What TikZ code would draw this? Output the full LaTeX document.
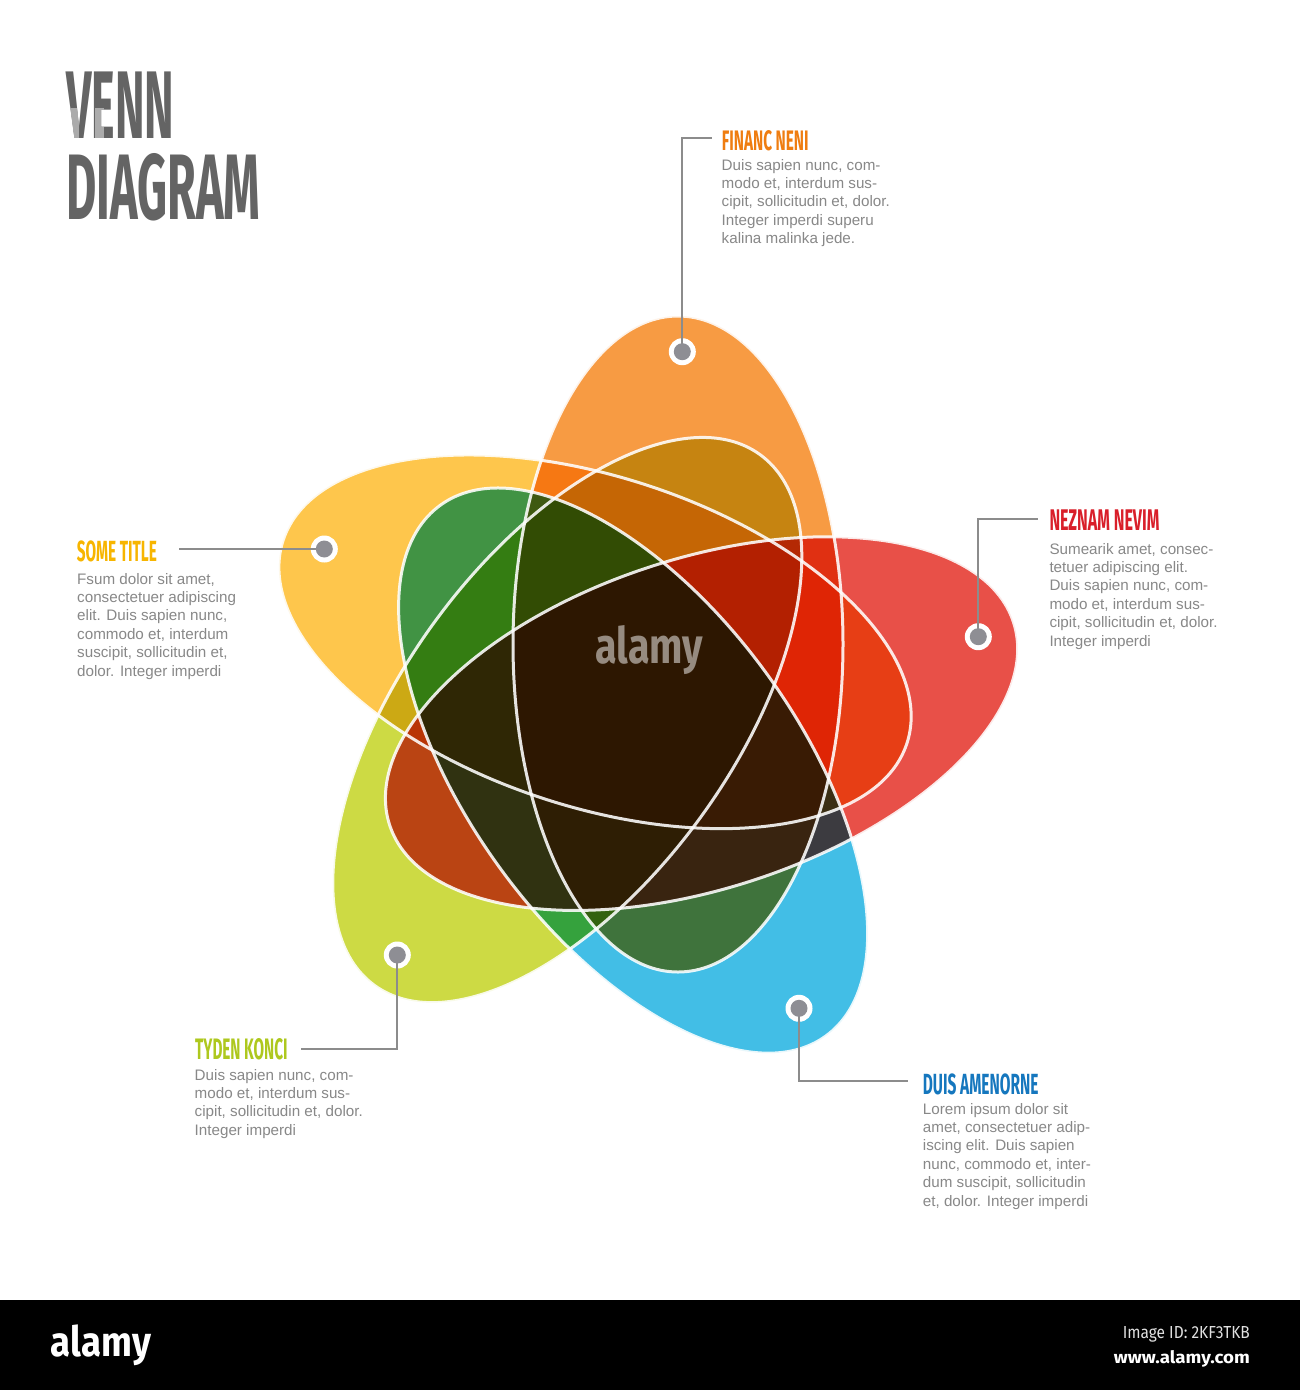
\documentclass[tikz,border=0pt]{standalone}
\usepackage{fontspec}
\usepackage{graphicx}
\setmainfont{Liberation Sans}
\newfontfamily\ttlfont{Fira Sans}
\definecolor{cOr}{HTML}{F79B43}
\definecolor{cYe}{HTML}{FEC64C}
\definecolor{cLi}{HTML}{CDDA44}
\definecolor{cBl}{HTML}{42BEE6}
\definecolor{cRe}{HTML}{E85048}
\definecolor{tOr}{HTML}{EF7D10}
\definecolor{tRe}{HTML}{D91F2A}
\definecolor{tYe}{HTML}{F7B500}
\definecolor{tLi}{HTML}{AEC81E}
\definecolor{tBl}{HTML}{1577BE}
\definecolor{bodyc}{HTML}{888888}
\definecolor{headc}{HTML}{646464}
\definecolor{headl}{HTML}{ABABAB}
\definecolor{connc}{HTML}{8C8C8C}
\definecolor{dotc}{HTML}{8E8E94}
\newcommand\ttl[3]{\resizebox{#1}{#2}{\ttlfont\bfseries #3}}
\newcommand\bodyblock[4]{%
  \foreach \bline [count=\i] in {#4}{\node[bodytxt] (#1\i) at (#2,{#3+18.4*(\i-1)}) {\bline};}}
\begin{document}
\begin{tikzpicture}[x=1pt,y=-1pt,
  bodytxt/.style={anchor=base west, inner sep=0pt, text=bodyc, font=\fontsize{15.2pt}{18pt}\selectfont},
  ttlnode/.style={anchor=base west, inner sep=0pt},
  ring/.style={circle, fill=white, minimum size=27pt, inner sep=0pt},
  hub/.style={circle, fill=dotc, minimum size=17pt, inner sep=0pt},
  conn/.style={draw=connc, line width=2pt},
  rim/.style={draw=white, draw opacity=0.88, line width=3pt}]
\useasboundingbox (0,0) rectangle (1300,1390);
\fill[white] (0,0) rectangle (1300,1390);
\coordinate (C) at (635,700);
% overlapping ellipses
\begin{scope}[blend group=multiply]
\foreach \ang/\col in {0/cOr,72/cYe,144/cLi,216/cBl,288/cRe}
  \fill[\col, rotate around={\ang:(C)}] (678,644) ellipse [x radius=165pt, y radius=328pt];
\end{scope}
\foreach \ang in {0,72,144,216,288}
  \draw[rim, rotate around={\ang:(C)}] (678,644) ellipse [x radius=165pt, y radius=328pt];
% watermark in centre
\node[anchor=base west, inner sep=0pt, text=white, text opacity=0.5] (wm) at (595,663) {\resizebox{108pt}{38pt}{\ttlfont\bfseries alamy}};
% dots
\node[ring] (dO) at (682.3,351.7) {};
\node[ring] (dR) at (978.3,636.7) {};
\node[ring] (dY) at (324.3,549) {};
\node[ring] (dL) at (397.3,955) {};
\node[ring] (dB) at (799,1008.3) {};
\coordinate (eO) at (711.7,138.3);
\coordinate (eR) at (1038,519.3);
\coordinate (eY) at (179.3,549);
\coordinate (eL) at (300.7,1049);
\coordinate (eB) at (908.3,1080.7);
\draw[conn] (dO.center) |- (eO);
\draw[conn] (dR.center) |- (eR);
\draw[conn] (dY.center) -- (eY);
\draw[conn] (dL.center) |- (eL);
\draw[conn] (dB.center) |- (eB);
\node[hub] (hO) at (dO) {};
\node[hub] (hR) at (dR) {};
\node[hub] (hY) at (dY) {};
\node[hub] (hL) at (dL) {};
\node[hub] (hB) at (dB) {};
% heading
\node[ttlnode, text=headc] (tV) at (66,138.3) {\ttl{108pt}{66.6pt}{VENN}};
\node[ttlnode, text=headc] (tD) at (66,219.3) {\ttl{194pt}{66pt}{DIAGRAM}};
\fill[headl, blend mode=lighten] (64,108) rectangle (79,139);
\fill[headl, blend mode=lighten] (95,108) rectangle (104,139);
% titles
\node[ttlnode, text=tOr] (tO) at (721.7,150) {\ttl{86.7pt}{20pt}{FINANC NENI}};
\node[ttlnode, text=tRe] (tR) at (1049.3,530.7) {\ttl{110pt}{20.7pt}{NEZNAM NEVIM}};
\node[ttlnode, text=tYe] (tY) at (76.7,561.7) {\ttl{80pt}{20.7pt}{SOME TITLE}};
\node[ttlnode, text=tLi] (tL) at (195,1059.3) {\ttl{92.3pt}{21pt}{TYDEN KONCI}};
\node[ttlnode, text=tBl] (tB) at (922.7,1094) {\ttl{115.6pt}{20.7pt}{DUIS AMENORNE}};
% body texts
\bodyblock{bO}{721.5}{170}{{Duis sapien nunc, com-},{modo et, interdum sus-},{cipit, sollicitudin et, dolor.},{Integer imperdi superu},{kalina malinka jede.}}
\bodyblock{bR}{1049.3}{554}{{Sumearik amet, consec-},{tetuer adipiscing elit.},{Duis sapien nunc, com-},{modo et, interdum sus-},{cipit, sollicitudin et, dolor.},{Integer imperdi}}
\bodyblock{bY}{77}{584}{{Fsum dolor sit amet,},{consectetuer adipiscing},{elit. Duis sapien nunc,},{commodo et, interdum},{suscipit, sollicitudin et,},{dolor. Integer imperdi}}
\bodyblock{bL}{194.5}{1080}{{Duis sapien nunc, com-},{modo et, interdum sus-},{cipit, sollicitudin et, dolor.},{Integer imperdi}}
\bodyblock{bB}{922.7}{1114}{{Lorem ipsum dolor sit},{amet, consectetuer adip-},{iscing elit. Duis sapien},{nunc, commodo et, inter-},{dum suscipit, sollicitudin},{et, dolor. Integer imperdi}}
% bottom band
\fill[black] (0,1300) rectangle (1300,1390);
\node[ttlnode, text=white] (al) at (50.7,1356.7) {\resizebox{100pt}{31.7pt}{\ttlfont\bfseries alamy}};
\node[anchor=base east, inner sep=0pt, text=white!88!black] (iid) at (1250,1338) {\resizebox{127pt}{12pt}{\ttlfont Image ID: 2KF3TKB}};
\node[anchor=base east, inner sep=0pt, text=white] (www) at (1250,1363) {\resizebox{136pt}{13pt}{\ttlfont\bfseries www.alamy.com}};
\end{tikzpicture}
\end{document}
